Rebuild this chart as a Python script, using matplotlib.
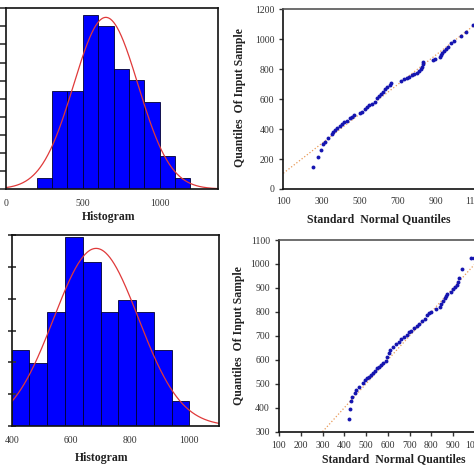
import numpy as np
import matplotlib
matplotlib.use("Agg")
import matplotlib.pyplot as plt

plt.rcParams['font.family'] = ['Liberation Serif', 'DejaVu Serif']

# top histogram (bin width 100)
hist1_edges = [200, 300, 400, 500, 600, 700, 800, 900, 1000, 1100, 1200]
hist1_counts = [1, 9, 9, 16, 15, 11, 10, 8, 3, 1]
fit1_mean, fit1_std = 650, 210

# bottom histogram (bin width 60)
hist2_edges = [400, 460, 520, 580, 640, 700, 760, 820, 880, 940, 1000]
hist2_counts = [6, 5, 9, 15, 13, 9, 10, 9, 6, 2]
fit2_mean, fit2_std = 685, 143

# top Q-Q plot
qq1_x = [254, 282, 298, 310, 319, 332, 353, 360, 370, 381, 395, 409, 419, 433,
         447, 458, 468, 500, 511, 525, 539, 549, 563, 577, 591, 602, 612, 620,
         630, 644, 658, 665, 718, 732, 746, 760, 774, 784, 798, 812, 819, 826,
         830, 833, 882, 893, 918, 925, 932, 942, 953, 963, 977, 995, 1030, 1058,
         1093]
qq1_y = [145, 216, 261, 298, 316, 339, 367, 379, 394, 410, 423, 437, 445, 457,
         472, 483, 494, 510, 517, 532, 546, 559, 568, 581, 605, 620, 635, 650,
         666, 684, 697, 706, 719, 733, 742, 751, 759, 768, 773, 786, 800, 817,
         835, 851, 862, 866, 884, 898, 906, 920, 933, 951, 973, 991, 1022, 1049,
         1094]
qq1_line_x = [100, 1100]
qq1_line_y = [105, 1095]

# bottom Q-Q plot
qq2_x = [423, 425, 429, 434, 449, 452, 466, 487, 495, 503, 512, 521, 530, 540,
         549, 558, 567, 579, 592, 598, 604, 610, 625, 637, 650, 662, 674, 687,
         696, 705, 720, 732, 745, 757, 769, 781, 791, 800, 821, 840, 846, 855,
         861, 867, 873, 892, 898, 910, 916, 922, 928, 941, 984, 996]
qq2_y = [352, 396, 427, 446, 463, 474, 488, 505, 516, 523, 530, 538, 547, 555,
         565, 572, 579, 586, 597, 611, 627, 640, 655, 666, 676, 686, 694, 703,
         714, 722, 732, 742, 750, 760, 772, 786, 794, 800, 813, 822, 833, 847,
         857, 867, 875, 881, 895, 903, 914, 925, 942, 978, 1024, 1024]
qq2_line_x = [300, 1100]
qq2_line_y = [300, 1100]

W = 474.0


def box(left, top, right, bottom):
    return [left / W, (W - bottom) / W, (right - left) / W, (bottom - top) / W]


fig = plt.figure(figsize=(4.74, 4.74), dpi=100)
tick_color = '#333333'
label_kw = dict(fontsize=8.5, fontweight='bold', color='#222222')


def draw_hist(ax, edges, counts, mu, sd, xlim, ymax, ystep, xticks):
    n = sum(counts)
    edges = np.array(edges, dtype=float)
    w = edges[1] - edges[0]
    rel = np.array(counts) / n
    ax.bar(edges[:-1], rel, width=np.diff(edges), align='edge',
           color='#0000ff', edgecolor='#000033', linewidth=0.6)
    xs = np.linspace(xlim[0], xlim[1], 400)
    ys = w / (sd * np.sqrt(2 * np.pi)) * np.exp(-0.5 * ((xs - mu) / sd) ** 2)
    ax.plot(xs, ys, color='#e03a3a', lw=0.9)
    ax.set_xlim(*xlim)
    ax.set_ylim(0, ymax)
    ax.set_xticks(xticks)
    ax.set_yticks(np.arange(0, ymax + 1e-9, ystep))
    ax.yaxis.set_major_formatter(plt.FormatStrFormatter('%.2f'))
    ax.tick_params(axis='x', length=0, labelsize=7, colors=tick_color, pad=7)
    for s in ax.spines.values():
        s.set_linewidth(1.2)
        s.set_color('#111111')
    ax.set_xlabel('Histogram', **label_kw)


# top-left
ax1 = fig.add_axes(box(6, 8.3, 218, 189))
draw_hist(ax1, hist1_edges, hist1_counts, fit1_mean, fit1_std,
          (0, 1380), 0.20, 0.02, [0, 500, 1000])
ax1.tick_params(axis='y', direction='out', length=4, width=1.2,
                labelsize=7, colors=tick_color, pad=6)
ax1.xaxis.set_label_coords(0.483, -0.122)

# bottom-left
ax3 = fig.add_axes(box(11.7, 235, 219, 426))
draw_hist(ax3, hist2_edges, hist2_counts, fit2_mean, fit2_std,
          (400, 1100), 0.18, 0.03, [400, 600, 800, 1000])
ax3.tick_params(axis='y', direction='inout', length=6, width=1.2,
                labelsize=7, colors=tick_color, pad=5)
ax3.xaxis.set_label_coords(0.435, -0.134)


def draw_qq(ax, xs, ys, lx, ly, xlim, ylim, xticks, yticks):
    ax.plot(lx, ly, linestyle=':', color='#e89a58', lw=0.9)
    ax.plot(xs, ys, 'o', color='#1515b0', ms=2.8, mew=0)
    ax.set_xlim(*xlim)
    ax.set_ylim(*ylim)
    ax.set_xticks(xticks)
    ax.set_yticks(yticks)
    ax.tick_params(labelsize=7, colors=tick_color, length=3, width=1)
    for s in ax.spines.values():
        s.set_linewidth(1.2)
        s.set_color('#111111')
    ax.spines['top'].set_color('#555555')
    ax.set_xlabel('Standard  Normal Quantiles', **label_kw)
    ax.set_ylabel('Quantiles  Of Input Sample', **label_kw)


# top-right
ax2 = fig.add_axes(box(283.3, 9.3, 474.5, 189))
draw_qq(ax2, qq1_x, qq1_y, qq1_line_x, qq1_line_y, (100, 1100), (0, 1200),
        [100, 300, 500, 700, 900, 1100], np.arange(0, 1201, 200))
ax2.tick_params(axis='x', length=0, pad=6)
ax2.xaxis.set_label_coords(0.5, -0.134)
ax2.yaxis.set_label_coords(-0.195, 0.51)

# bottom-right
ax4 = fig.add_axes(box(279, 240, 496.7, 431.7))
draw_qq(ax4, qq2_x, qq2_y, qq2_line_x, qq2_line_y, (100, 1100), (300, 1100),
        np.arange(100, 1001, 100), np.arange(300, 1101, 100))
ax4.xaxis.set_label_coords(0.528, -0.114)
ax4.yaxis.set_label_coords(-0.156, 0.5)

fig.savefig('out.png', dpi=100)
